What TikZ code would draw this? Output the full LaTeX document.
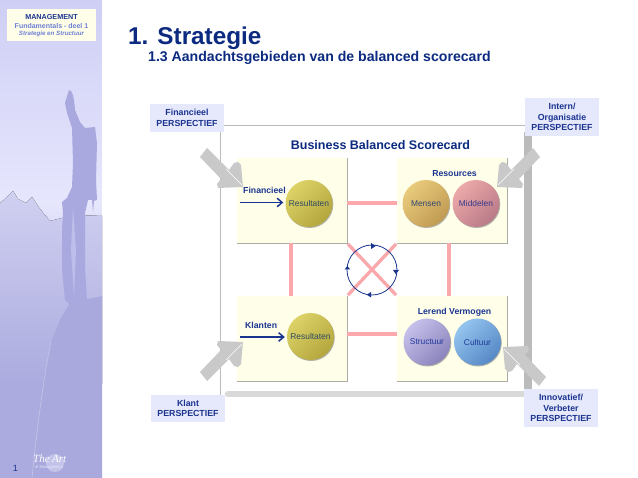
\documentclass[tikz,border=0pt]{standalone}
\usepackage{fontspec}
\setmainfont{Liberation Sans}
\newfontfamily\logofont{Liberation Serif}
\usetikzlibrary{arrows.meta,calc}
\definecolor{navy}{HTML}{1A3490}
\definecolor{deep}{HTML}{0B2A80}
\definecolor{panelA}{HTML}{CFCFF5}
\definecolor{panelB}{HTML}{E6E6FD}
\definecolor{panelC}{HTML}{ABABDF}
\definecolor{hiker}{HTML}{A9A9E0}
\definecolor{peak}{HTML}{D0D0F1}
\definecolor{rock}{HTML}{A9A9DE}
\definecolor{pinkline}{HTML}{FBA8AC}
\definecolor{frameg}{HTML}{BBBBBB}
\definecolor{boxfill}{HTML}{FFFFE9}
\definecolor{persp}{HTML}{E6E8FB}
\definecolor{midblue}{HTML}{6E7FD4}
\definecolor{oliveA}{HTML}{DCD266}
\definecolor{oliveB}{HTML}{B3A63E}
\definecolor{oliveT}{HTML}{2F4A62}
\definecolor{sandA}{HTML}{E9CB7C}
\definecolor{sandB}{HTML}{C09A52}
\definecolor{sandT}{HTML}{2F4A72}
\definecolor{roseA}{HTML}{EDA9A9}
\definecolor{roseB}{HTML}{B97A88}
\definecolor{roseT}{HTML}{35398C}
\definecolor{lilacA}{HTML}{C6C0EC}
\definecolor{lilacB}{HTML}{8A84BC}
\definecolor{skyA}{HTML}{94C4EE}
\definecolor{skyB}{HTML}{5688C6}
\definecolor{coolT}{HTML}{1F3A98}
\tikzset{
  x=1pt,y=-1pt,
  area/.style={fill=boxfill,draw=none,minimum width=110pt,minimum height=85pt,inner sep=0pt},
  perspbox/.style={fill=persp,inner sep=0pt,minimum width=74pt,align=center,text=navy,font=\bfseries\fontsize{8.8}{10.5}\selectfont},
  lbl/.style={text=navy,font=\bfseries\fontsize{8.7}{10}\selectfont,inner sep=0pt},
  pinkc/.style={draw=pinkline,line width=3.3pt},
  flow/.style={draw=navy,line width=1.8pt,shorten >=2pt,-{Straight Barb[length=5pt,width=8.5pt,line width=1.5pt]}},
  cyc/.style={draw=navy,line width=0.8pt},
}
\newcommand{\grayarrow}[4]{%
  \begin{scope}[shift={(#1,#2)},xscale=#3,yscale=#4]
    \fill[frameg!80!white] (0,0) -- (-2,-22) -- (-5,-25) -- (-9,-24) -- (-14,-17)
      -- (-36,-39) -- (-43,-30) -- (-22,-8) -- (-26,-3) -- (-25,1) -- cycle;
    \draw[white,line width=0.5pt] (-17,-18) -- (-1,-2);
  \end{scope}}
\newcommand{\ballnode}[6]{%
  \fill[black!55,opacity=.55] (#2+0.7,#3+0.9) circle (23.6pt);
  \node[circle,minimum size=47pt,inner sep=0pt,top color=#4,bottom color=#5,shading angle=45,text=#6,font=\fontsize{8.4}{10}\selectfont] (#1) at (#2,#3) {\csname lbl#1\endcsname};}
\newcommand{\lblresf}{Resultaten}
\newcommand{\lblresk}{Resultaten}
\newcommand{\lblmens}{Mensen}
\newcommand{\lblmidd}{Middelen}
\newcommand{\lblstru}{Structuur}
\newcommand{\lblcult}{Cultuur}
\begin{document}
\begin{tikzpicture}
\useasboundingbox (0,0) rectangle (638,478);
\fill[white] (0,0) rectangle (638,478);
% side panel, painted in strips so that the gradient stays strictly vertical
\foreach \yy in {0,4,...,200}{
  \pgfmathtruncatemacro{\pp}{100-\yy/2}
  \fill[panelA!\pp!panelB] (0,\yy) rectangle (102,\yy+5);
}
\foreach \yy in {200,204,...,380}{
  \pgfmathtruncatemacro{\pp}{(\yy-200)/1.8}
  \fill[panelC!\pp!panelB] (0,\yy) rectangle (102,\yy+5);
}
\fill[panelC] (0,384) rectangle (102,478);
\fill[top color=peak,bottom color=panelC]
  (0,203) -- (6,198) -- (13,191) -- (18,199) -- (26,203) -- (32,197) -- (40,209) -- (50,221) -- (62,218)
  -- (80,215) -- (102,216) -- (102,384) -- (0,384) -- cycle;
\fill[rock] (70,303) -- (60,320) -- (50,345) -- (42,385) -- (32,478) -- (102,478) -- (102,296) -- cycle;
\draw[white,opacity=.3,line width=.7pt] (51,342) .. controls (44,375) and (38,420) .. (32,478);
\fill[hiker] (69,90) .. controls (72,90) and (74,96) .. (75,110) -- (80,122) -- (85,128) -- (95,127) -- (97,143)
  -- (96,180) -- (97,200) -- (94,201) -- (93,212) -- (92,200) -- (88,200) -- (85,213) -- (85,237) -- (85,267) -- (87,300)
  -- (70,305) -- (65,300) -- (62,270) -- (62,230) -- (63,213) -- (62,202) -- (67,198) -- (72,187) -- (73,163) -- (72,128) -- (67,113) -- (65,103) -- cycle;
\fill[panelB!35!hiker] (73,207) -- (71,250) -- (74,296) -- (76,250) -- cycle;
% badge
\node[fill=boxfill,minimum width=89pt,minimum height=32pt,inner sep=0pt] (badge) at (51.5,25) {};
\node[text=navy,font=\bfseries\fontsize{7.2}{9}\selectfont,inner sep=0pt] (bt1) at (51.5,17) {MANAGEMENT};
\node[text=midblue,font=\bfseries\fontsize{7}{9}\selectfont,inner sep=0pt] (bt2) at (51.5,26) {Fundamentals - deel 1};
\node[text=midblue,font=\bfseries\itshape\fontsize{6.2}{8}\selectfont,inner sep=0pt] (bt3) at (51.5,34) {Strategie en Structuur};
% footer
\node[text=navy,font=\fontsize{9}{10}\selectfont,inner sep=0pt] (pageno) at (15.5,468) {1};
\node[fill=panelB,opacity=.45,circle,minimum size=18pt,inner sep=0pt] (logoball) at (55,463) {};
\node[text=white,font=\logofont\itshape\fontsize{11}{12}\selectfont,inner sep=0pt,anchor=west] (logothe) at (33,459) {The};
\node[text=white,font=\logofont\itshape\fontsize{11}{12}\selectfont,inner sep=0pt,anchor=west] (logoart) at (52,459) {Art};
\node[text=panelB,font=\fontsize{4}{4}\selectfont,inner sep=0pt,anchor=west] (logosub) at (35,467.5) {of Management};
% titles
\node[text=deep,font=\bfseries\fontsize{24.3}{28}\selectfont,inner sep=0pt,anchor=base west] (title) at (128,45) {1. Strategie};
\node[text=deep,font=\bfseries\fontsize{14.1}{16}\selectfont,inner sep=0pt,anchor=base west] (sub) at (148,61.5) {1.3 Aandachtsgebieden van de balanced scorecard};
\node[text=deep,font=\bfseries\fontsize{12.5}{15}\selectfont,inner sep=0pt] (bbs) at (380.5,145) {Business Balanced Scorecard};
% frame
\coordinate (tl) at (220,126);
\coordinate (tr) at (527,126);
\coordinate (bl) at (220,395);
\draw[frameg,line width=1pt] (tl) -- (tr);
\draw[frameg,line width=1pt] (tl) -- (bl);
\draw[frameg,line width=8pt] (528,132) -- (528,389);
\draw[black!15,line width=6.5pt,line cap=round] (228,394) -- (524,394);
% perspective boxes
\node[perspbox,minimum height=28pt] (pf) at (187,118) {Financieel\\PERSPECTIEF};
\node[perspbox,minimum height=38pt] (pi) at (562,117) {Intern/\\Organisatie\\PERSPECTIEF};
\node[perspbox,minimum height=27pt] (pk) at (188,408.5) {Klant\\PERSPECTIEF};
\node[perspbox,minimum height=38pt] (pv) at (561,408) {Innovatief/\\Verbeter\\PERSPECTIEF};
% areas
\node[area] (fin) at (292,200.5) {};
\node[area] (res) at (452,200.5) {};
\node[area] (kla) at (292,338.5) {};
\node[area] (ler) at (452,338.5) {};
\foreach \b in {fin,res,kla,ler}{
  \draw[gray!65!boxfill,line width=.9pt] (\b.south west) -- (\b.south east) -- (\b.north east);
}
% pink connectors
\draw[pinkc] ([yshift=-2.5pt]fin.east) -- ([yshift=-2.5pt]res.west);
\draw[pinkc] ([yshift=4.5pt]kla.east) -- ([yshift=4.5pt]ler.west);
\draw[pinkc] ([xshift=-1pt]fin.south) -- ([xshift=-1pt]kla.north);
\draw[pinkc] ([xshift=-3pt]res.south) -- ([xshift=-3pt]ler.north);
\draw[pinkc,shorten >=1pt,shorten <=1pt] (fin.south east) -- (ler.north west);
\draw[pinkc,shorten >=1pt,shorten <=1pt] (res.south west) -- (kla.north east);
% cycle
\coordinate (cyc) at (372,270);
\draw[cyc] (cyc) circle (25pt);
\fill[navy] (375.7,246) -- (371.2,243) -- (371.2,249) -- cycle;
\fill[navy] (395.7,274) -- (393,270) -- (399,270) -- cycle;
\fill[navy] (366.7,294.7) -- (371,292) -- (371,297.4) -- cycle;
\fill[navy] (347.3,266) -- (344.5,269.5) -- (350.3,269.5) -- cycle;
% gray arrows
\grayarrow{243}{187}{1}{1}
\grayarrow{497}{187}{-1}{1}
\grayarrow{243}{342}{1}{-1}
\grayarrow{503}{347}{-1}{-1}
% balls
\ballnode{resf}{309}{203.5}{oliveA}{oliveB}{oliveT}
\ballnode{mens}{426}{203.5}{sandA}{sandB}{sandT}
\ballnode{midd}{476}{203.5}{roseA}{roseB}{roseT}
\ballnode{resk}{310.5}{336.5}{oliveA}{oliveB}{oliveT}
\ballnode{stru}{427}{342}{lilacA}{lilacB}{coolT}
\ballnode{cult}{477.5}{342}{skyA}{skyB}{coolT}
% labels and flows
\node[lbl,anchor=west] (lfin) at (243,190.5) {Financieel};
\node[lbl,anchor=west] (lkla) at (245,325.5) {Klanten};
\node[lbl] (lres) at (454.5,173.5) {Resources};
\node[lbl] (ller) at (454.5,312.5) {Lerend Vermogen};
\coordinate (ff) at (240,202.5);
\coordinate (kf) at (240,337);
\draw[flow] (ff) -- (ff -| resf.west);
\draw[flow] (kf) -- (kf -| resk.west);
\end{tikzpicture}
\end{document}
